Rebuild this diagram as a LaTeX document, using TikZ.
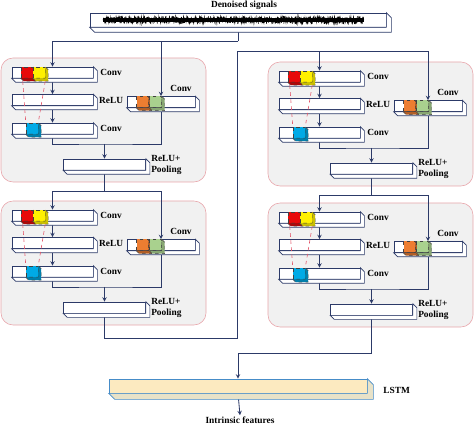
\documentclass[tikz,border=0pt]{standalone}
\usepackage{fontspec}
\setmainfont{Liberation Serif}
\usepackage{tikz}
\usetikzlibrary{arrows,positioning,calc}
\definecolor{wirenavy}{RGB}{44,58,104}
\definecolor{blkedge}{RGB}{232,165,170}
\definecolor{blkfill}{RGB}{241,241,241}
\definecolor{recepred}{RGB}{225,80,100}
\definecolor{cred}{RGB}{232,10,10}
\definecolor{cyel}{RGB}{255,240,0}
\definecolor{cblu}{RGB}{0,170,230}
\definecolor{corg}{RGB}{237,125,49}
\definecolor{cgrn}{RGB}{169,209,142}
\definecolor{lstmfill}{RGB}{252,234,192}
\definecolor{lstmdep}{RGB}{232,226,200}
\definecolor{lstmedge}{RGB}{70,140,200}

\pgfdeclarelayer{bg}
\pgfdeclarelayer{wires}
\pgfsetlayers{bg,wires,main}

% depth faces of a flat 3-D bar: node, depth, edge colour, fill colour
\newcommand\slabdepth[4]{%
  \filldraw[draw=#3, fill=#4, line width=0.6pt]
    (#1.south west) -- ++(#2,#2) -- ($(#1.south east)+(#2,#2)$)
    -- ($(#1.north east)+(#2,#2)$) -- (#1.north east) -- (#1.south east) -- cycle;}
% dashed depth of a coloured kernel cube
\newcommand\cubedepth[2]{%
  \filldraw[dashed, draw=black!75, fill=#2, line width=0.4pt]
    (#1.south west) -- ++(3,3) -- ($(#1.south east)+(3,3)$)
    -- ($(#1.north east)+(3,3)$) -- (#1.north east) -- (#1.south east) -- cycle;}

\begin{document}
\begin{tikzpicture}[x=0.03cm, y=-0.03cm,
        every node/.style={font=\fontsize{8}{9.4}\selectfont\bfseries},
        slab/.style={rectangle, draw=wirenavy, fill=white, line width=0.6pt,
                     inner sep=0, minimum height=0.33cm},
        convbox/.style={slab, minimum width=2.43cm},
        sidebox/.style={slab, minimum width=2.04cm},
        poolbox/.style={slab, minimum width=2.46cm},
        cube/.style={rectangle, draw=black!75, dashed, line width=0.4pt,
                     inner sep=0, minimum width=0.36cm, minimum height=0.33cm},
        wire/.style={draw=wirenavy, line width=0.7pt},
        flow/.style={wire, ->, >=stealth},
        recep/.style={dashed, draw=recepred, line width=0.5pt},
        lbl/.style={inner sep=1pt, text=black}
    ]
    \useasboundingbox (0,0) rectangle (474,427);

    %% ── Input signal ─────────────────────────────────────────────────────
    \node (ttl) at (244,5) {Denoised signals};
    \node[slab, minimum width=8.88cm, minimum height=0.42cm] (sig) at (238,20) {};
    \slabdepth{sig}{5}{wirenavy}{white}
    \pgfmathsetseed{11}
    \fill[black] (103,17.6) rectangle (364,22.4);
    \draw[black, line width=0.45pt] plot[domain=103:364, samples=900] (\x,{20+3.9*rand});

    %% ── Residual conv blocks ─────────────────────────────────────────────
    \foreach \b/\ox/\oy in {1/1/58, 2/1/201, 3/268/62, 4/268/203} {
      \begin{scope}[shift={(\ox,\oy)}]
        \begin{pgfonlayer}{bg}
          \draw[draw=blkedge, fill=blkfill, rounded corners=0.36cm, line width=0.5pt]
            (0,0) rectangle (205,124);
        \end{pgfonlayer}
        \node[convbox] (c\b) at (51.5,14.5) {};
        \node[convbox] (r\b) at (51.5,42) {};
        \node[convbox] (v\b) at (51.5,70.5) {};
        \node[sidebox] (s\b) at (160,44) {};
        \node[poolbox] (p\b) at (103.5,106.5) {};
        \foreach \n in {c,r,v,s,p} {\slabdepth{\n\b}{4}{wirenavy}{white}}

        % kernels
        \node[cube, fill=cred] (kr\b) at (26,14.5) {};   \cubedepth{kr\b}{cred!75!black}
        \node[cube, fill=cyel] (ky\b) at (38,14.5) {};   \cubedepth{ky\b}{cyel!80!black}
        \node[cube, fill=cblu] (kb\b) at (31,70.5) {};   \cubedepth{kb\b}{cblu!75!black}
        \node[cube, fill=corg] (ko\b) at (141.5,44) {};  \cubedepth{ko\b}{corg!75!black}
        \node[cube, fill=cgrn] (kg\b) at (154.5,44) {};  \cubedepth{kg\b}{cgrn!80!black}
        \draw[recep] ($(kr\b.south west)+(2,3)$) -- (kb\b.north west);
        \draw[recep] ($(ky\b.south east)+(0,3)$) -- (kb\b.north east);

        % labels
        \node[lbl, right=0.17cm of c\b] (lc\b) {Conv};
        \node[lbl, right=0.13cm of r\b] (lr\b) {ReLU};
        \node[lbl, right=0.17cm of v\b] (lv\b) {Conv};
        \node[lbl] (ls\b) at (180,30) {Conv};
        \node[lbl, right=0.12cm of p\b, align=left] (lp\b) {ReLU+\\Pooling};

        % wiring inside the block
        \coordinate (j\b) at (103.5,86);
        \begin{pgfonlayer}{wires}
          \draw[flow] (c\b.south) -- (r\b.north);
          \draw[flow] (r\b.south) -- (v\b.north);
          \draw[wire] (v\b.south) |- (j\b) -| (s\b.south);
          \draw[flow] (j\b) -- (p\b.north);
        \end{pgfonlayer}
      \end{scope}
    }

    %% ── LSTM and output ──────────────────────────────────────────────────
    \node[slab, draw=lstmedge, fill=lstmfill, minimum width=7.74cm,
          minimum height=0.42cm] (lstm) at (238,386) {};
    \slabdepth{lstm}{6}{lstmedge}{lstmdep}
    \node[lbl, anchor=west] (llstm) at (382,390) {LSTM};
    \node[lbl] (feat) at (240,420) {Intrinsic features};

    %% ── Links between blocks ─────────────────────────────────────────────
    \coordinate (top1) at (0,41);
    \coordinate (top2) at (0,191);
    \coordinate (top3) at (0,51);
    \coordinate (top4) at (0,195);
    \coordinate (low2) at (237,338);
    \coordinate (mrg)  at (0,353);
    \begin{pgfonlayer}{wires}
      \draw[wire] (sig.south) -- (sig.south |- top1);
      \draw[flow] (sig.south |- top1) -| (c1.north);
      \draw[flow] (sig.south |- top1) -| (s1.north);

      \draw[wire] (p1.south) -- (p1.south |- top2);
      \draw[flow] (p1.south |- top2) -| (c2.north);
      \draw[flow] (p1.south |- top2) -| (s2.north);

      \draw[wire] (p2.south) |- (low2) -- (low2 |- top3);
      \draw[flow] (low2 |- top3) -| (c3.north);
      \draw[flow] (low2 |- top3) -| (s3.north);

      \draw[wire] (p3.south) -- (p3.south |- top4);
      \draw[flow] (p3.south |- top4) -| (c4.north);
      \draw[flow] (p3.south |- top4) -| (s4.north);

      \draw[flow] (p4.south) |- (mrg -| lstm.north) -- (lstm.north);
      \draw[flow] (lstm.south) -- (feat.north);
    \end{pgfonlayer}
\end{tikzpicture}
\end{document}
